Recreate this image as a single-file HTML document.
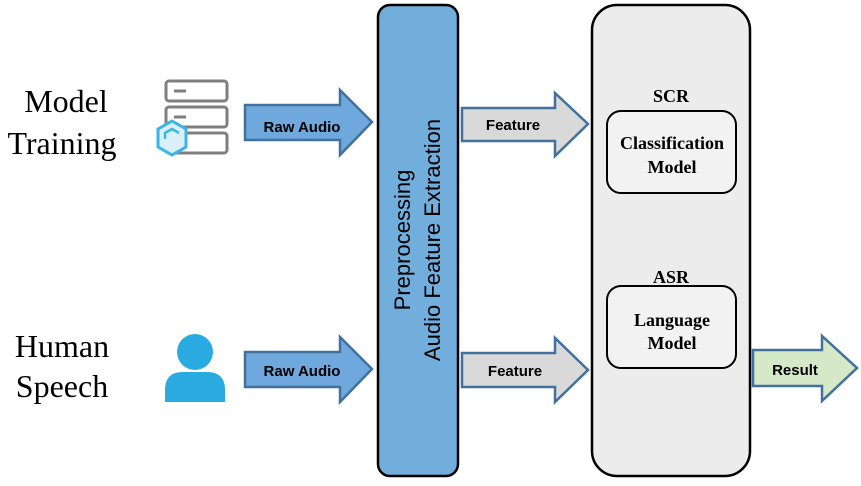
<!DOCTYPE html>
<html><head><style>body{margin:0;background:#fff}</style></head><body>
<svg width="861" height="481" viewBox="0 0 861 481" xmlns="http://www.w3.org/2000/svg">
<g font-family="Liberation Serif, serif" font-size="32" fill="#000">
<text x="66" y="112" text-anchor="middle">Model</text>
<text x="62" y="154" text-anchor="middle">Training</text>
<text x="62" y="357" text-anchor="middle">Human</text>
<text x="62" y="397" text-anchor="middle">Speech</text>
</g>
<g fill="none" stroke="#7f7f7f" stroke-width="3">
<rect x="166" y="81" width="61" height="20" rx="3"/>
<rect x="166" y="107" width="61" height="20" rx="3"/>
<rect x="166" y="133" width="61" height="20" rx="3"/>
<line x1="174" y1="91" x2="186" y2="91"/>
<line x1="174" y1="117" x2="186" y2="117"/>
</g>
<polygon points="172,121 186,129 186,147 172,155 158,147 158,129" fill="#d9f0fa" stroke="#3cb5e5" stroke-width="3"/>
<polyline points="165,139 165,133 172,129 179,133" fill="none" stroke="#3cb5e5" stroke-width="2.5"/>
<g fill="#29abe2">
<circle cx="195" cy="352" r="18"/>
<path d="M165,402 L165,390 Q165,372 183,372 L207,372 Q225,372 225,390 L225,402 Z"/>
</g>
<g stroke="#41719c" stroke-width="2.5">
<polygon points="245,105 340,105 340,90 372,122 340,155 340,140 245,140" fill="#6fa8dc"/>
<polygon points="245,352 340,352 340,337 372,369 340,402 340,387 245,387" fill="#6fa8dc"/>
<polygon points="462,108 555,108 555,93 588,124 555,156 555,141 462,141" fill="#d9d9d9"/>
<polygon points="462,353 555,353 555,338 588,370 555,402 555,387 462,387" fill="#d9d9d9"/>
<polygon points="753,350 822,350 822,336 857,368 822,401 822,386 753,386" fill="#d5e8c8"/>
</g>
<g font-family="Liberation Sans, sans-serif" font-weight="bold" font-size="15" fill="#000" text-anchor="middle">
<text x="302" y="132">Raw Audio</text>
<text x="302" y="376">Raw Audio</text>
<text x="513" y="130">Feature</text>
<text x="515" y="376">Feature</text>
<text x="795" y="375">Result</text>
</g>
<rect x="378" y="5" width="80" height="471" rx="12" fill="#72aedc" stroke="#000" stroke-width="2.5"/>
<g font-family="Liberation Sans, sans-serif" font-size="22" fill="#000" text-anchor="middle">
<text transform="translate(410,240) rotate(-90)">Preprocessing</text>
<text transform="translate(440,240) rotate(-90)">Audio Feature Extraction</text>
</g>
<rect x="592" y="5" width="158" height="471" rx="25" fill="#ececec" stroke="#000" stroke-width="2.5"/>
<rect x="607" y="111" width="129" height="82" rx="14" fill="#f2f2f2" stroke="#000" stroke-width="2"/>
<rect x="607" y="286" width="129" height="82" rx="14" fill="#f2f2f2" stroke="#000" stroke-width="2"/>
<g font-family="Liberation Serif, serif" font-weight="bold" font-size="18" fill="#000" text-anchor="middle">
<text x="671" y="102">SCR</text>
<text x="672" y="149">Classification</text>
<text x="672" y="173">Model</text>
<text x="671" y="283">ASR</text>
<text x="672" y="326">Language</text>
<text x="672" y="349">Model</text>
</g>
</svg>
</body></html>
